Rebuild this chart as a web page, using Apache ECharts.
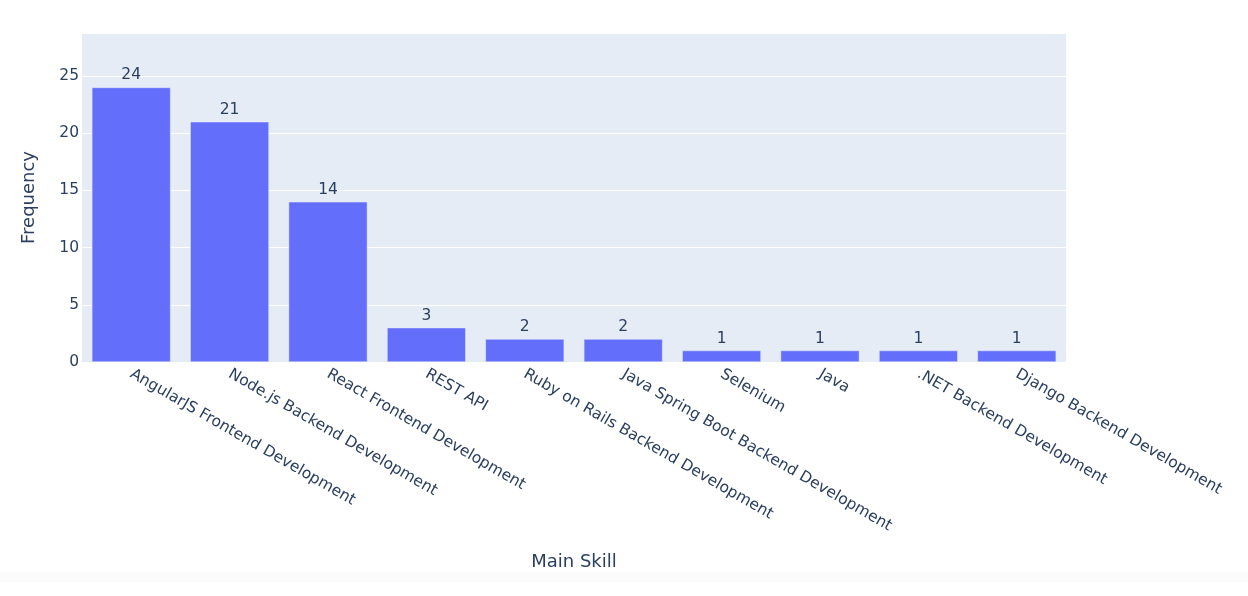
<!DOCTYPE html>
<html>
<head>
<meta charset="utf-8">
<script src="https://cdn.jsdelivr.net/npm/echarts@6/dist/echarts.min.js"></script>
<style>
html,body{margin:0;padding:0;background:#fff;}
#chart{width:1248px;height:596px;}
</style>
</head>
<body>
<div id="chart"></div>
<script>
const categories = [
  "AngularJS Frontend Development",
  "Node.js Backend Development",
  "React Frontend Development",
  "REST API",
  "Ruby on Rails Backend Development",
  "Java Spring Boot Backend Development",
  "Selenium",
  "Java",
  ".NET Backend Development",
  "Django Backend Development"
];
const frequency = [24, 21, 14, 3, 2, 2, 1, 1, 1, 1];
const yTicks = [0, 5, 10, 15, 20, 25];

const FONT = "DejaVu Sans";
const TXT = "#2a3f5f";

const chart = echarts.init(document.getElementById('chart'), null, {renderer: 'canvas'});
chart.setOption({
  backgroundColor: '#ffffff',
  animation: false,
  textStyle: {fontFamily: FONT, color: TXT},
  graphic: [{
    type: 'rect', left: 0, top: 572, shape: {width: 1248, height: 10},
    style: {fill: '#fcfcfc'}, silent: true, z: -10
  }],
  grid: {
    left: 82, right: 182, top: 33, bottom: 234,
    show: true, backgroundColor: '#E5ECF6', borderWidth: 0
  },
  xAxis: {
    type: 'category',
    data: categories,
    name: 'Main Skill',
    nameLocation: 'middle',
    nameGap: 191,
    nameTextStyle: {fontFamily: FONT, fontSize: 18, color: TXT},
    axisLine: {show: false},
    axisTick: {show: false},
    axisLabel: {
      rotate: -30, interval: 0, margin: 11,
      fontFamily: FONT, fontSize: 15.5, color: TXT
    },
    splitLine: {show: false}
  },
  yAxis: {
    type: 'value',
    min: yTicks[0],
    max: 28.76,
    interval: 5,
    name: 'Frequency',
    nameLocation: 'middle',
    nameGap: 44,
    nameTextStyle: {fontFamily: FONT, fontSize: 18, color: TXT},
    axisLine: {show: false},
    axisTick: {show: false},
    axisLabel: {
      showMaxLabel: false, margin: 3,
      fontFamily: FONT, fontSize: 15.5, color: TXT
    },
    splitLine: {show: true, lineStyle: {color: '#ffffff', width: 1}}
  },
  series: [{
    type: 'bar',
    data: frequency,
    barCategoryGap: '20%',
    itemStyle: {color: '#636efa', borderColor: '#E5ECF6', borderWidth: 0.5},
    label: {
      show: true, position: 'top', distance: 4,
      fontFamily: FONT, fontSize: 15.5, color: TXT
    }
  }]
});
</script>
</body>
</html>
